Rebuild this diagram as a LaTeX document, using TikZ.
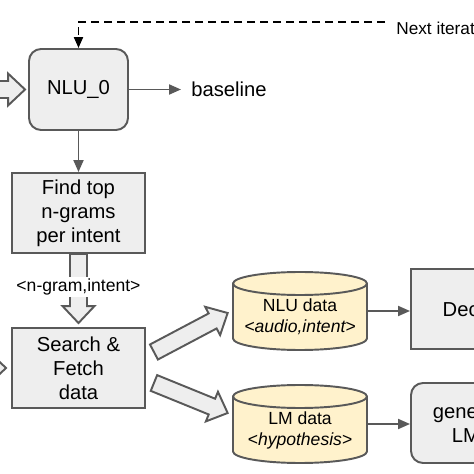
\documentclass[tikz,border=0pt]{standalone}
\usepackage{fontspec}
\setmainfont{Liberation Sans}
\usetikzlibrary{positioning,calc,arrows.meta}
\definecolor{boxgray}{HTML}{EEEEEE}
\definecolor{linegray}{HTML}{595959}
\definecolor{datayellow}{HTML}{FFF2CC}
\tikzset{
  procbox/.style={draw=linegray,fill=boxgray,line width=1.1pt,minimum width=2.66cm,minimum height=1.6cm,
    align=center,inner sep=0pt,font=\fontsize{11.5}{13.7}\selectfont},
  modelbox/.style={procbox,rounded corners=0.24cm},
  drumbox/.style={minimum width=2.68cm,minimum height=1.56cm,inner sep=0pt},
  drum/.style={draw=linegray,fill=datayellow,line width=1.1pt},
  datatext/.style={align=center,inner sep=0pt,font=\fontsize{10}{12}\selectfont},
  thinarrow/.style={draw=linegray,line width=1.1pt,-{Triangle[length=0.24cm,width=0.2cm]}},
  loopline/.style={draw=black,line width=1.1pt,dash pattern=on 0.16cm off 0.1cm,-{Triangle[length=0.22cm,width=0.18cm]}},
  fat/.style={draw=linegray,fill=boxgray,line width=1.1pt,line join=miter},
  plain/.style={inner sep=0pt,font=\fontsize{11.5}{13.7}\selectfont}
}
% hollow block arrow from #1 to #2 (coordinate names)
\newcommand\fatarrow[2]{%
  \coordinate (neck) at ($(#2)!0.34cm!(#1)$);
  \path[fat] ($(#1)!0.17cm!90:(#2)$) -- ($(neck)!0.17cm!90:(#2)$) -- ($(neck)!0.32cm!90:(#2)$)
    -- (#2) -- ($(neck)!0.32cm!-90:(#2)$) -- ($(neck)!0.17cm!-90:(#2)$) -- ($(#1)!0.17cm!-90:(#2)$) -- cycle;
}
% data drum round the node #1
\newcommand\datadrum[1]{%
  \path[drum] ($(#1.center)+(-67,27.5)$) -- ($(#1.center)+(-67,-27.5)$)
    arc[start angle=180,end angle=360,x radius=1.34cm,y radius=0.23cm] -- ($(#1.center)+(67,27.5)$)
    arc[start angle=0,end angle=180,x radius=1.34cm,y radius=0.23cm] -- cycle;
  \draw[drum,fill=none] ($(#1.center)+(-67,27.5)$) arc[start angle=180,end angle=360,x radius=1.34cm,y radius=0.23cm];
}
\begin{document}
\begin{tikzpicture}[x=0.02cm,y=0.02cm]
  \clip (0,0) rectangle (474,474);
  \fill[white] (0,0) rectangle (474,474);

  \node[modelbox,minimum width=1.98cm,minimum height=1.62cm] (nlu0) at (78.5,384.5) {NLU\_0};
  \node[procbox] (find) at (78.5,261) {Find top\\n-grams\\per intent};
  \node[procbox] (search) at (78.5,106) {Search \&\\Fetch\\data};
  \node[drumbox] (nludata) at (300,163) {};
  \datadrum{nludata}
  \node[datatext] (nludatatext) at ([yshift=-0.12cm]nludata.center) {NLU data\\\textit{<audio,intent>}};
  \node[drumbox] (lmdata) at (300,50) {};
  \datadrum{lmdata}
  \node[datatext] (lmdatatext) at ([yshift=-0.12cm]lmdata.center) {LM data\\\textit{<hypothesis>}};
  \node[procbox] (decode) at (477.5,165) {Decode};
  \node[modelbox,minimum width=2.2cm] (genlm) at (466,51) {generic\\LM};

  \node[plain,anchor=west] (base) at (191,384.5) {baseline};
  \node[inner sep=0pt,anchor=west,font=\fontsize{9.8}{12}\selectfont] (next) at (396,446) {Next iteration};
  \coordinate (loopend) at (385,452);

  % thin connectors
  \draw[loopline] (loopend) -| (nlu0.north);
  \draw[thinarrow] (nlu0.east) -- ([xshift=-0.2cm]base.west);
  \draw[thinarrow] (nlu0.south) -- (find.north);
  \draw[thinarrow] (nludata.east) -- (nludata.east -| decode.west);
  \draw[thinarrow] (lmdata.east) -- (lmdata.east -| genlm.west);

  % block arrows
  \coordinate (in0) at (-30,384.5);
  \coordinate (tipA) at ([xshift=-0.06cm]nlu0.west);
  \fatarrow{in0}{tipA}
  \coordinate (in1) at (-30,106);
  \coordinate (tipB) at ([xshift=-0.1cm]search.west);
  \fatarrow{in1}{tipB}
  \coordinate (tipC) at ([yshift=0.08cm]search.north);
  \fatarrow{find.south}{tipC}
  \coordinate (outA) at ($(search.east)+(8,16)$);
  \coordinate (tipD) at ($(nludata.west)+(-5,-2)$);
  \fatarrow{outA}{tipD}
  \coordinate (outB) at ($(search.east)+(8,-15)$);
  \coordinate (tipE) at ($(lmdata.west)+(-5,11)$);
  \fatarrow{outB}{tipE}

  \node[fill=white,inner sep=1pt,font=\fontsize{10}{12}\selectfont] (pair) at ($(find.south)!0.45!(search.north)$) {<n-gram,intent>};
\end{tikzpicture}
\end{document}
